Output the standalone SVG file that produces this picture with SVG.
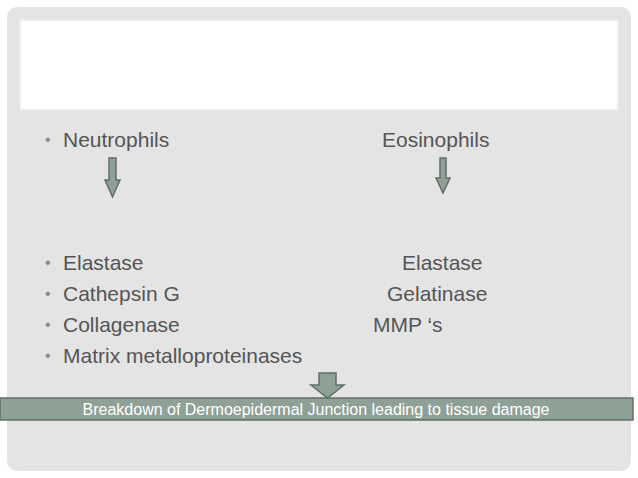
<svg xmlns="http://www.w3.org/2000/svg" width="638" height="478" viewBox="0 0 638 478">
<style>
.t{font-family:"Liberation Sans",Arial,sans-serif;font-size:21px;fill:#555}
.b{font-family:"Liberation Sans",Arial,sans-serif;font-size:16px;fill:#8a8a8a}
.ar{fill:#8fa096;stroke:#5f6f66;stroke-width:1.5}
</style>
<rect width="638" height="478" fill="#fff"/>
<rect x="7" y="7" width="624" height="464" rx="10" fill="#e4e4e4"/>
<rect x="20" y="20" width="598" height="90" fill="#fff" stroke="#ececec" stroke-width="2"/>
<g id="neutrophils"><text class="b" x="45" y="145">•</text><text class="t" x="63" y="147">Neutrophils</text></g>
<g id="eosinophils"><text class="t" x="382" y="147">Eosinophils</text></g>
<g id="neutro-list">
<text class="b" x="45" y="268">•</text><text class="t" x="63" y="270">Elastase</text>
<text class="b" x="45" y="299">•</text><text class="t" x="63" y="301">Cathepsin G</text>
<text class="b" x="45" y="330">•</text><text class="t" x="63" y="332">Collagenase</text>
<text class="b" x="45" y="361">•</text><text class="t" x="63" y="363">Matrix metalloproteinases</text>
</g>
<g id="eosino-list">
<text class="t" x="402" y="270">Elastase</text>
<text class="t" x="387" y="301">Gelatinase</text>
<text class="t" x="373" y="332">MMP ‘s</text>
</g>
<g id="connectors">
<polygon class="ar" points="109,158 116,158 116,180 120,180 112.5,197 105,180 109,180"/>
<polygon class="ar" points="440,158 446,158 446,178 450,178 443,193 436,178 440,178"/>
<polygon class="ar" points="319,373 336,373 336,385 344,385 327.5,398 311,385 319,385"/>
</g>
<g id="result">
<rect x="0" y="398" width="633" height="22" fill="#8fa096" stroke="#5f6f66" stroke-width="1.5"/>
<text x="316" y="415" text-anchor="middle" style="font-family:'Liberation Sans',Arial,sans-serif;font-size:16px;fill:#fff">Breakdown of Dermoepidermal Junction leading to tissue damage</text>
</g>
</svg>
